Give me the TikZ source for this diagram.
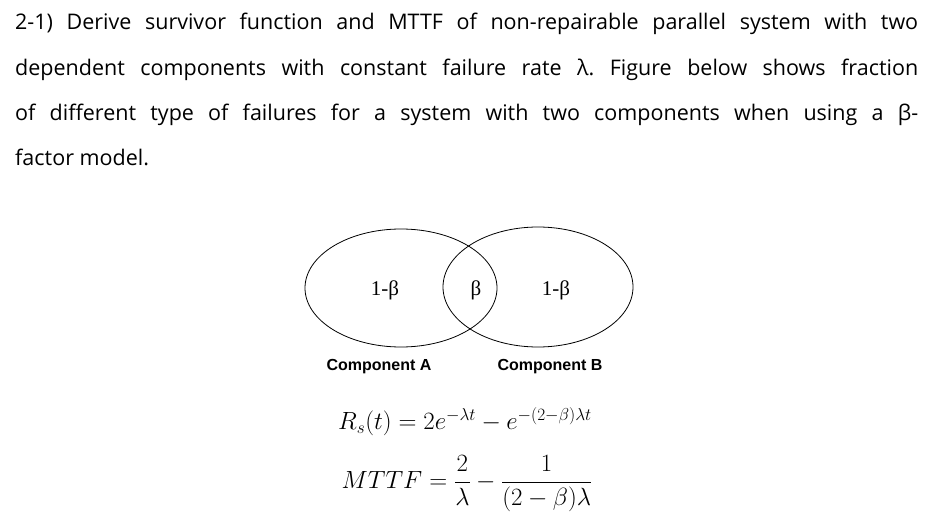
\documentclass[tikz,border=0pt]{standalone}
\usepackage{fontspec}
\setmainfont{Open Sans}
\newfontfamily\serifb{Liberation Serif}
\newfontfamily\compfont{Liberation Sans}
\usepackage{amsmath}
\frenchspacing
\begin{document}
\begin{tikzpicture}[x=1pt,y=-1pt,
  para/.style={anchor=base west,inner sep=0pt,font=\fontsize{21.5}{24}\selectfont},
  lbl/.style={inner sep=0pt,font=\serifb\fontsize{21}{24}\selectfont},
  comp/.style={inner sep=0pt,font=\compfont\bfseries\fontsize{16}{18}\selectfont},
  eq/.style={inner sep=0pt,font=\fontsize{23}{26}\selectfont},
  ring/.style={draw=black,line width=0.8pt}]
\useasboundingbox (0,0) rectangle (934,521);
\node[para] (l1) at (15,30) {\makebox[903pt][s]{2-1) Derive survivor function and MTTF of non-repairable parallel system with two}};
\node[para] (l2) at (15,76) {\makebox[903pt][s]{dependent components with constant failure rate λ. Figure below shows fraction}};
\node[para] (l3) at (15,121) {\makebox[903pt][s]{of different type of failures for a system with two components when using a β-}};
\node[para] (l4) at (15,166) {factor model.};
\draw[ring] (401,288) ellipse [x radius=96, y radius=59];
\draw[ring] (538,287) ellipse [x radius=95, y radius=60];
\node[lbl] (a) at (385,290) {1-β};
\node[lbl] (b) at (476,290) {β};
\node[lbl] (c) at (556,290) {1-β};
\node[comp] (ca) at (379,367) {Component A};
\node[comp] (cb) at (550,367) {Component B};
\node[eq] (r) at (465,422) {$R_s(t) = 2e^{-\lambda t} - e^{-(2-\beta)\lambda t}$};
\node[eq] (m) at (467,484) {$MTTF = \dfrac{2}{\lambda} - \dfrac{1}{(2-\beta)\lambda}$};
\end{tikzpicture}
\end{document}
